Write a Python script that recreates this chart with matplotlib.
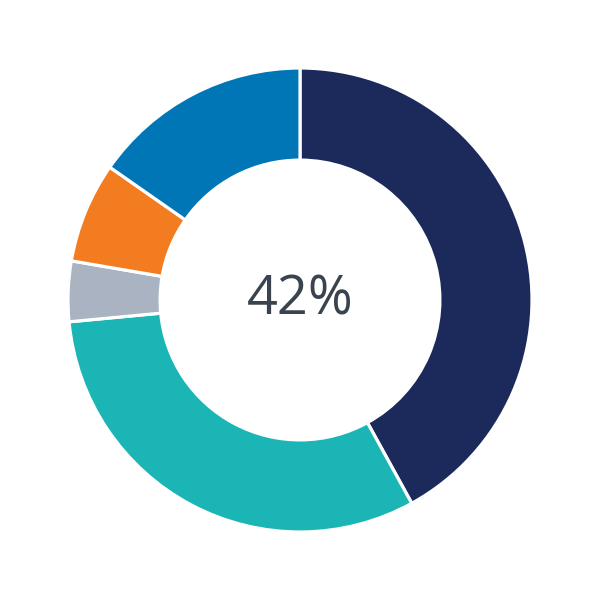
import matplotlib.pyplot as plt

# slice shares (%), clockwise from 12 o'clock
labels = ['Navy', 'Teal', 'Gray', 'Orange', 'Blue']
values = [42, 31.5, 4.2, 7.0, 15.3]
colors = ['#1b2a5b', '#1bb5b5', '#a9b3c2', '#f47c20', '#0076b6']
center_text = '42%'

fig = plt.figure(figsize=(6, 6), dpi=100, facecolor='white')
ax = fig.add_axes([0, 0, 1, 1])

lim = 300 / 232
ax.pie(values, colors=colors, startangle=90, counterclock=False,
       radius=1.0,
       wedgeprops=dict(width=0.397, edgecolor='white', linewidth=2.3))
ax.set_xlim(-lim, lim)
ax.set_ylim(-lim, lim)
ax.set_aspect('equal')
ax.axis('off')

ax.text(0, 0.0, center_text, ha='center', va='center',
        fontsize=39, color='#3a4350', family=['Open Sans', 'DejaVu Sans'])

fig.savefig('out.png', dpi=100, facecolor='white')
